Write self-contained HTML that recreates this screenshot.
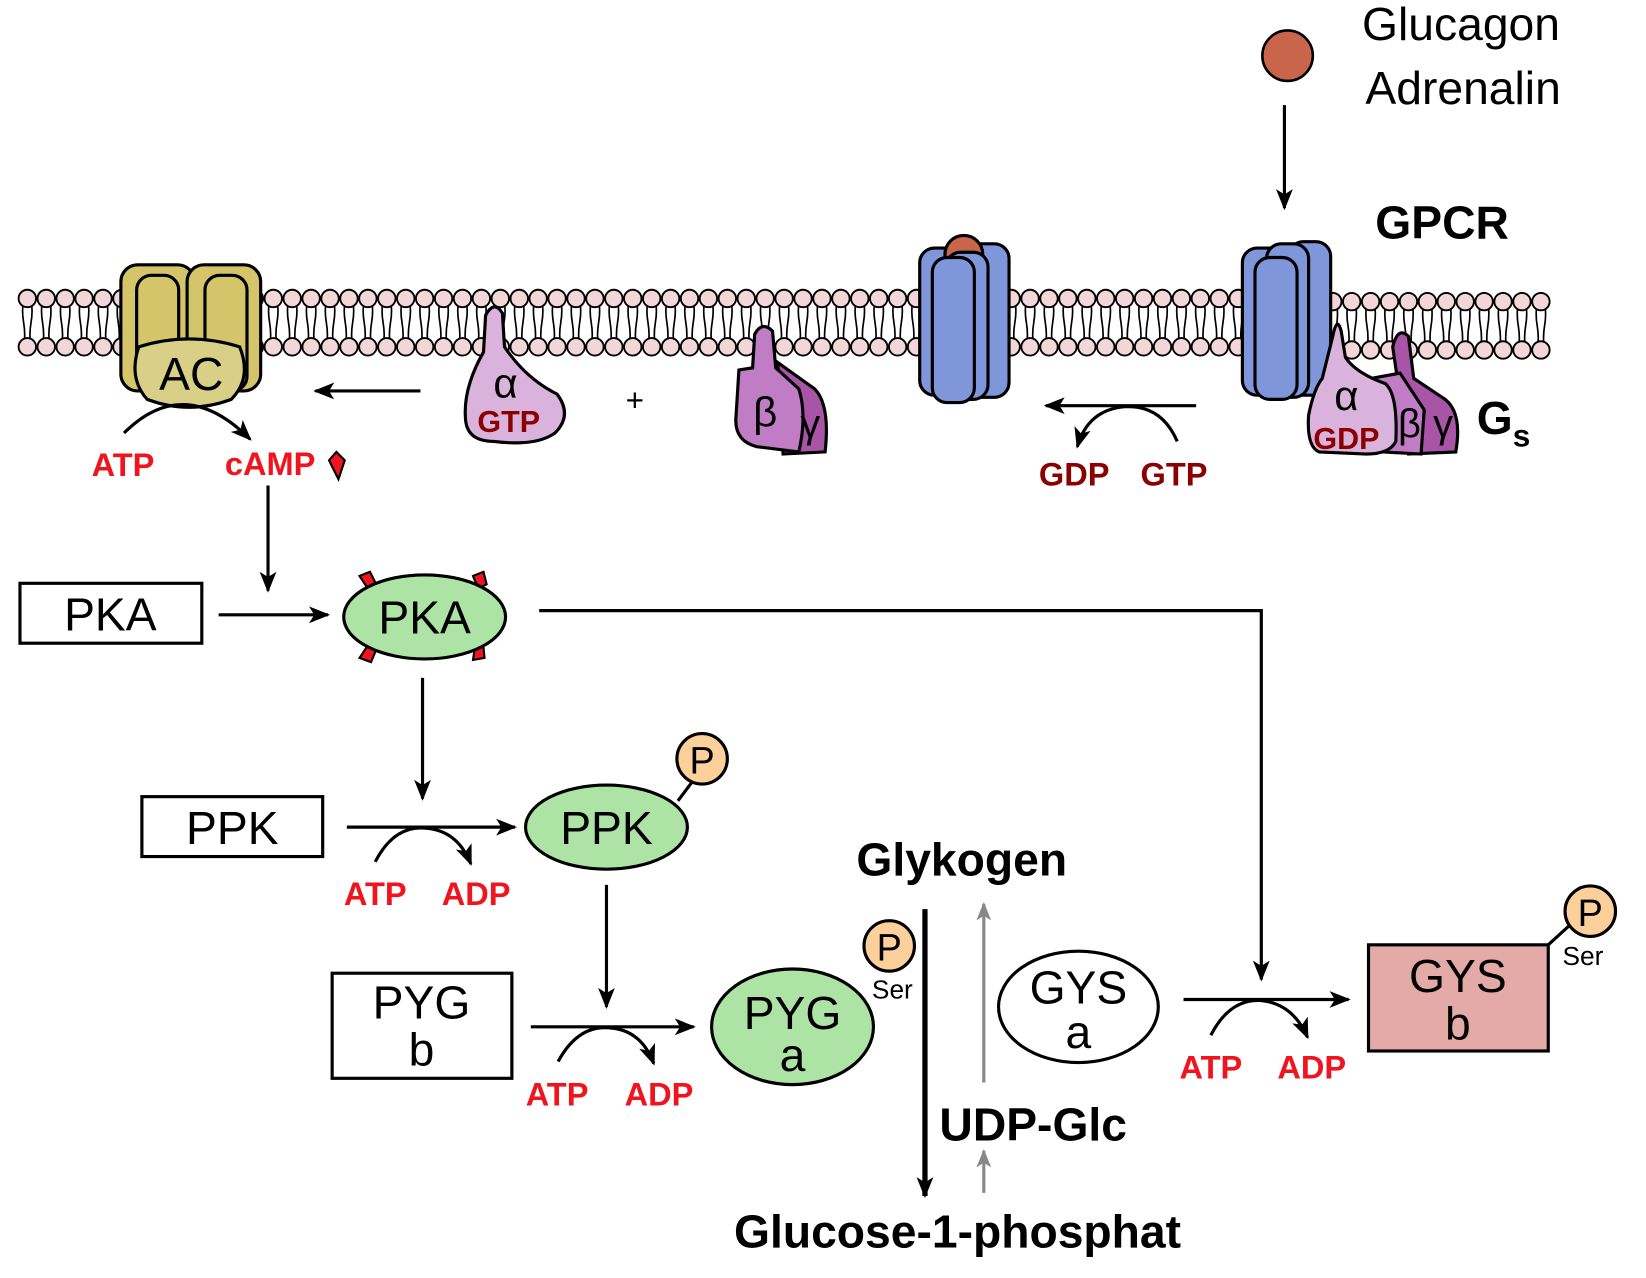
<!DOCTYPE html>
<html><head><meta charset="utf-8"><style>
html,body{margin:0;padding:0;background:#fff}
svg{display:block}
text{font-family:"Liberation Sans",sans-serif}
</style></head><body>
<svg id="s" width="1646" height="1278" viewBox="0 0 1566 1216" preserveAspectRatio="none" xmlns="http://www.w3.org/2000/svg">
<defs>
<marker id="a" viewBox="0 0 20 16" refX="18" refY="8" markerWidth="20" markerHeight="16" orient="auto" markerUnits="userSpaceOnUse"><path d="M0,0 L20,8 L0,16 L5,8 Z" fill="#000"/></marker>
<marker id="ag" viewBox="0 0 20 16" refX="18" refY="8" markerWidth="18" markerHeight="14" orient="auto" markerUnits="userSpaceOnUse"><path d="M0,0 L20,8 L0,16 L5,8 Z" fill="#888"/></marker>
</defs>
<g id="mem"></g>

<circle cx="1225" cy="53" r="24" fill="#c8654a" stroke="#000" stroke-width="2.5"/>
<text x="1390" y="38" font-size="44" text-anchor="middle">Glucagon</text>
<text x="1392" y="99" font-size="44" text-anchor="middle">Adrenalin</text>
<line x1="1222" y1="100" x2="1222" y2="198" stroke="#000" stroke-width="3" marker-end="url(#a)"/>
<text x="1372" y="227" font-size="44" font-weight="bold" text-anchor="middle">GPCR</text>

<g stroke="#000" stroke-width="3" fill="#d4c46a">
<rect x="115" y="252" width="70" height="120" rx="16"/>
<rect x="178" y="252" width="70" height="120" rx="16"/>
<rect x="130" y="262" width="40" height="110" rx="14"/>
<rect x="195" y="262" width="40" height="110" rx="14"/>
<path d="M132,330 Q180,315 228,330 Q240,360 220,380 Q180,395 140,380 Q122,360 132,330Z" fill="#d9cf87"/>
</g>
<text x="182" y="371" font-size="44" text-anchor="middle">AC</text>
<path d="M118,412 Q175,355 238,418" fill="none" stroke="#000" stroke-width="3" marker-end="url(#a)"/>
<text x="117" y="453" font-size="31" font-weight="bold" fill="#f0141e" text-anchor="middle">ATP</text>
<text x="257" y="452" font-size="31" font-weight="bold" fill="#f0141e" text-anchor="middle">cAMP</text>
<path d="M320,430 L328,438 L322,456 L313,438Z" fill="#f0141e" stroke="#000" stroke-width="2"/>
<line x1="400" y1="372" x2="300" y2="372" stroke="#000" stroke-width="3" marker-end="url(#a)"/>

<path d="M462,300 Q470,285 478,298 L480,330 Q500,360 530,375 Q545,395 528,412 Q510,425 470,420 Q445,420 443,400 Q440,370 460,335 Z" fill="#d9b3dc" stroke="#000" stroke-width="3"/>
<text x="481" y="378" font-size="40" text-anchor="middle">α</text>
<text x="484" y="411" font-size="29" font-weight="bold" fill="#8b0000" text-anchor="middle">GTP</text>
<text x="604" y="391" font-size="30" text-anchor="middle">+</text>

<path d="M740,345 L775,370 Q790,385 785,430 L745,432 Z" fill="#a855a8" stroke="#000" stroke-width="3"/>
<path d="M718,318 Q725,305 735,315 L738,350 L760,370 Q768,395 760,430 L720,425 Q700,420 700,400 L703,352 L716,350 Z" fill="#c07cc4" stroke="#000" stroke-width="3"/>
<text x="728" y="406" font-size="40" text-anchor="middle">β</text>
<text x="771" y="416" font-size="38" text-anchor="middle">γ</text>

<g stroke="#000" stroke-width="3" fill="#7f96db">
<rect x="875" y="236" width="40" height="140" rx="14"/>
<rect x="920" y="232" width="40" height="146" rx="14"/>
<circle cx="917" cy="242" r="18" fill="#c8654a"/>
<rect x="900" y="240" width="40" height="140" rx="14"/>
<rect x="887" y="245" width="40" height="138" rx="14"/>
</g>
<g stroke="#000" stroke-width="3" fill="#7f96db">
<rect x="1182" y="236" width="40" height="140" rx="14"/>
<rect x="1226" y="230" width="40" height="146" rx="14"/>
<rect x="1205" y="232" width="40" height="146" rx="14"/>
<rect x="1194" y="245" width="40" height="135" rx="14"/>
</g>
<path d="M1325,330 Q1330,310 1340,320 L1345,360 L1372,378 Q1392,390 1385,430 L1340,432 Z" fill="#a855a8" stroke="#000" stroke-width="3"/>
<path d="M1305,360 L1332,355 L1355,390 L1352,432 L1315,430 Z" fill="#c07cc4" stroke="#000" stroke-width="3"/>
<path d="M1268,320 Q1272,300 1276,315 L1280,340 Q1290,355 1318,365 Q1330,375 1328,420 Q1322,432 1300,432 L1255,430 Q1243,425 1245,395 Q1250,370 1258,360 Z" fill="#d9b3dc" stroke="#000" stroke-width="3"/>
<text x="1281" y="390" font-size="40" text-anchor="middle">α</text>
<text x="1281" y="427" font-size="29" font-weight="bold" fill="#8b0000" text-anchor="middle">GDP</text>
<text x="1341" y="416" font-size="38" text-anchor="middle">β</text>
<text x="1373" y="416" font-size="38" text-anchor="middle">γ</text>
<text x="1405" y="413" font-size="44" font-weight="bold">G<tspan font-size="30" dy="12">s</tspan></text>

<line x1="1138" y1="386" x2="995" y2="386" stroke="#000" stroke-width="3" marker-end="url(#a)"/>
<path d="M1120,420 Q1105,385 1070,387 Q1035,390 1025,425" fill="none" stroke="#000" stroke-width="3" marker-end="url(#a)"/>
<text x="1022" y="462" font-size="31" font-weight="bold" fill="#8b0000" text-anchor="middle">GDP</text>
<text x="1117" y="462" font-size="31" font-weight="bold" fill="#8b0000" text-anchor="middle">GTP</text>

<line x1="255" y1="462" x2="255" y2="562" stroke="#000" stroke-width="3" marker-end="url(#a)"/>
<rect x="19" y="555" width="173" height="57" fill="#fff" stroke="#000" stroke-width="3"/>
<text x="105" y="600" font-size="44" text-anchor="middle">PKA</text>
<line x1="208" y1="585" x2="312" y2="585" stroke="#000" stroke-width="3" marker-end="url(#a)"/>
<g fill="#f0141e" stroke="#000" stroke-width="2">
<path d="M342,548 L352,544 L358,556 L350,560 Z"/><path d="M450,548 L460,544 L463,556 L455,560 Z"/>
<path d="M342,626 L353,630 L358,618 L350,614 Z"/><path d="M450,628 L461,626 L460,616 L452,614 Z"/>
</g>
<ellipse cx="404" cy="587" rx="77" ry="40" fill="#ade3a5" stroke="#000" stroke-width="3"/>
<text x="404" y="603" font-size="44" text-anchor="middle">PKA</text>
<polyline points="513,581 1200,581 1200,932" fill="none" stroke="#000" stroke-width="3" marker-end="url(#a)"/>

<line x1="402" y1="645" x2="402" y2="760" stroke="#000" stroke-width="3" marker-end="url(#a)"/>
<rect x="135" y="758" width="172" height="57" fill="#fff" stroke="#000" stroke-width="3"/>
<text x="221" y="803" font-size="44" text-anchor="middle">PPK</text>
<line x1="330" y1="787" x2="490" y2="787" stroke="#000" stroke-width="3" marker-end="url(#a)"/>
<path d="M357,820 Q375,785 405,788 Q435,790 448,822" fill="none" stroke="#000" stroke-width="3" marker-end="url(#a)"/>
<text x="357" y="861" font-size="31" font-weight="bold" fill="#f0141e" text-anchor="middle">ATP</text>
<text x="453" y="861" font-size="31" font-weight="bold" fill="#f0141e" text-anchor="middle">ADP</text>
<line x1="645" y1="762" x2="660" y2="742" stroke="#000" stroke-width="3"/>
<ellipse cx="577" cy="787" rx="77" ry="40" fill="#ade3a5" stroke="#000" stroke-width="3"/>
<text x="577" y="803" font-size="44" text-anchor="middle">PPK</text>
<circle cx="668" cy="722" r="24" fill="#fcd09a" stroke="#000" stroke-width="3"/>
<text x="668" y="736" font-size="36" text-anchor="middle">P</text>

<line x1="577" y1="842" x2="577" y2="958" stroke="#000" stroke-width="3" marker-end="url(#a)"/>
<rect x="316" y="926" width="171" height="100" fill="#fff" stroke="#000" stroke-width="3"/>
<text x="401" y="969" font-size="44" text-anchor="middle">PYG</text>
<text x="401" y="1014" font-size="44" text-anchor="middle">b</text>
<line x1="505" y1="977" x2="660" y2="977" stroke="#000" stroke-width="3" marker-end="url(#a)"/>
<path d="M531,1010 Q550,975 580,978 Q610,980 622,1012" fill="none" stroke="#000" stroke-width="3" marker-end="url(#a)"/>
<text x="530" y="1052" font-size="31" font-weight="bold" fill="#f0141e" text-anchor="middle">ATP</text>
<text x="627" y="1052" font-size="31" font-weight="bold" fill="#f0141e" text-anchor="middle">ADP</text>
<ellipse cx="754" cy="977" rx="77" ry="55" fill="#ade3a5" stroke="#000" stroke-width="3"/>
<text x="754" y="979" font-size="44" text-anchor="middle">PYG</text>
<text x="754" y="1019" font-size="44" text-anchor="middle">a</text>
<circle cx="846" cy="900" r="24" fill="#fcd09a" stroke="#000" stroke-width="3"/>
<text x="846" y="914" font-size="36" text-anchor="middle">P</text>
<text x="849" y="950" font-size="25" text-anchor="middle">Ser</text>

<text x="915" y="833" font-size="44" font-weight="bold" text-anchor="middle">Glykogen</text>
<line x1="880" y1="865" x2="880" y2="1138" stroke="#000" stroke-width="5" marker-end="url(#a)"/>
<line x1="936" y1="1030" x2="936" y2="860" stroke="#888" stroke-width="3" marker-end="url(#ag)"/>
<line x1="936" y1="1135" x2="936" y2="1095" stroke="#888" stroke-width="3" marker-end="url(#ag)"/>
<text x="983" y="1085" font-size="44" font-weight="bold" text-anchor="middle">UDP-Glc</text>
<text x="911" y="1187" font-size="44" font-weight="bold" text-anchor="middle">Glucose-1-phosphat</text>

<ellipse cx="1026" cy="958" rx="76" ry="53" fill="#fff" stroke="#000" stroke-width="3"/>
<text x="1026" y="955" font-size="44" text-anchor="middle">GYS</text>
<text x="1026" y="997" font-size="44" text-anchor="middle">a</text>
<line x1="1126" y1="951" x2="1283" y2="951" stroke="#000" stroke-width="3" marker-end="url(#a)"/>
<path d="M1152,985 Q1170,950 1200,952 Q1230,955 1244,987" fill="none" stroke="#000" stroke-width="3" marker-end="url(#a)"/>
<text x="1152" y="1026" font-size="31" font-weight="bold" fill="#f0141e" text-anchor="middle">ATP</text>
<text x="1248" y="1026" font-size="31" font-weight="bold" fill="#f0141e" text-anchor="middle">ADP</text>
<rect x="1302" y="899" width="171" height="101" fill="#e4aaa8" stroke="#000" stroke-width="3"/>
<text x="1387" y="944" font-size="44" text-anchor="middle">GYS</text>
<text x="1387" y="989" font-size="44" text-anchor="middle">b</text>
<line x1="1473" y1="899" x2="1496" y2="878" stroke="#000" stroke-width="3"/>
<circle cx="1513" cy="867" r="24" fill="#fcd09a" stroke="#000" stroke-width="3"/>
<text x="1513" y="881" font-size="36" text-anchor="middle">P</text>
<text x="1506" y="918" font-size="25" text-anchor="middle">Ser</text>
</svg>
<script>
(function(){
var g=document.getElementById('mem'),h='';
for(var x=26;x<=1480;x+=18){
 var off=x>1265?3:0;
 var t=284+off,b=330+off,m=(b-t)/2;
 h+='<path d="M'+(x-3.5)+','+t+' q-2,12 0,'+m+' q2,12 0,'+m+'M'+(x+3.5)+','+t+' q2,12 0,'+m+' q-2,12 0,'+m+'" fill="none" stroke="#000" stroke-width="1.6"/>';
 h+='<circle cx="'+x+'" cy="'+t+'" r="8.3" fill="#f2d6d8" stroke="#000" stroke-width="1.8"/>';
 h+='<circle cx="'+x+'" cy="'+b+'" r="8.3" fill="#f2d6d8" stroke="#000" stroke-width="1.8"/>';
}
g.innerHTML=h;
})();
</script>
</body></html>
